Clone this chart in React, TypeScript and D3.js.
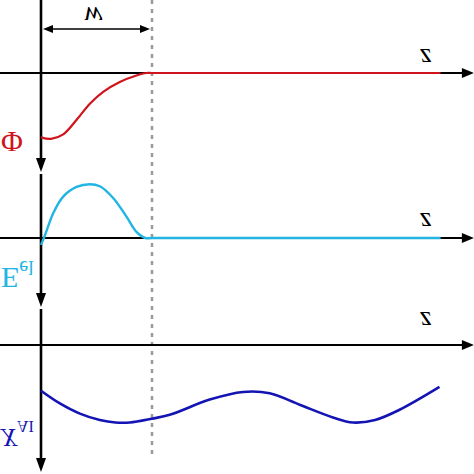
import React from 'react';
import * as d3 from 'd3';

// z positions (in units of w) and profile values for each panel
const Z_MAX = 3.9;
const phiZ = [0, 0.09, 0.2, 0.33, 0.44, 0.56, 0.71, 0.86, 0.95, 1.0, 3.6];
const phiV = [0.65, 0.665, 0.62, 0.46, 0.31, 0.19, 0.09, 0.025, 0, 0, 0];

const elZ = [0, 0.036, 0.11, 0.2, 0.32, 0.44, 0.53, 0.65, 0.77, 0.86, 0.94, 1.0, 3.6];
const elV = [0.1, -0.04, -0.36, -0.6, -0.74, -0.78, -0.75, -0.58, -0.31, -0.09, 0, 0, 0];

const chiZ = [0, 0.17, 0.35, 0.53, 0.67, 0.8, 1.0, 1.16, 1.52, 1.82, 2.06, 2.33, 2.63, 2.81, 3.01, 3.23, 3.59];
const chiV = [0.36, 0.46, 0.54, 0.59, 0.61, 0.61, 0.58, 0.55, 0.43, 0.37, 0.38, 0.47, 0.57, 0.61, 0.59, 0.51, 0.33];

const RED = '#d0141c';
const CYAN = '#22b4e2';
const BLUE = '#1414b4';
const FONT = '"Liberation Serif", "DejaVu Serif", serif';

const width = 474;
const height = 474;

const x = d3.scaleLinear().domain([0, 1]).range([41, 152]);
const yPhi = d3.scaleLinear().domain([0, 1]).range([73, 172]);
const yEl = d3.scaleLinear().domain([0, 1]).range([238, 307]);
const yChi = d3.scaleLinear().domain([0, 1]).range([345, 472]);

const makeLine = (y: d3.ScaleLinear<number, number>) =>
  d3.line<[number, number]>()
    .x(d => x(d[0]))
    .y(d => y(d[1]))
    .curve(d3.curveCatmullRom.alpha(0.5));

const zip = (a: number[], b: number[]) => a.map((v, i) => [v, b[i]] as [number, number]);

// arrow head polygon, tip at (tx, ty), pointing in direction (dx, dy)
const head = (tx: number, ty: number, dx: number, dy: number, len = 13, half = 5) => {
  const bx = tx - dx * len, by = ty - dy * len;
  const px = -dy * half, py = dx * half;
  return `M${tx},${ty}L${bx + px},${by + py}L${bx - px},${by - py}Z`;
};

// flipped (mirrored upside down) label
const Flip: React.FC<{ x: number; y: number; children: React.ReactNode }> = ({ x: tx, y: ty, children }) => (
  <g transform={`translate(${tx},${ty}) scale(1,-1)`}>{children}</g>
);

const App: React.FC = () => {
  const x0 = x(0);
  const xEnd = x(Z_MAX);
  const xW = x(1);
  const panels = [
    { y: yPhi, z: phiZ, v: phiV, color: RED, w: 2.2 },
    { y: yEl, z: elZ, v: elV, color: CYAN, w: 2.4 },
    { y: yChi, z: chiZ, v: chiV, color: BLUE, w: 2.6 },
  ];
  const tips = [yPhi(1), yEl(1), yChi(1)];
  const starts = [0, tips[0] + 2, tips[1] + 2];

  return (
    <svg width={width} height={height} style={{ position: 'absolute', left: 0, top: 0, background: '#fff' }}>
      {/* dashed w marker */}
      <line x1={xW} x2={xW} y1={0} y2={455} stroke="#999" strokeWidth={2.5} strokeDasharray="4,5" />

      {/* horizontal z axes */}
      {panels.map((p, i) => (
        <g key={`ax${i}`}>
          <line x1={0} x2={xEnd - 8} y1={p.y(0)} y2={p.y(0)} stroke="#000" strokeWidth={2} />
          <path d={head(xEnd, p.y(0), 1, 0, 12, 5)} fill="#000" />
        </g>
      ))}

      {/* vertical axes */}
      {tips.map((t, i) => (
        <g key={`v${i}`}>
          <line x1={x0} x2={x0} y1={starts[i]} y2={t - 8} stroke="#000" strokeWidth={2.6} />
          <path d={head(x0, t, 0, 1, 14, 5)} fill="#000" />
        </g>
      ))}

      {/* curves */}
      {panels.map((p, i) => (
        <path key={`c${i}`} d={makeLine(p.y)(zip(p.z, p.v)) || ''} fill="none" stroke={p.color} strokeWidth={p.w} />
      ))}

      {/* w double arrow */}
      <line x1={x0 + 6} x2={xW - 6} y1={29} y2={29} stroke="#000" strokeWidth={1.5} />
      <path d={head(x0 + 2, 29, -1, 0, 10, 4)} fill="#000" />
      <path d={head(xW - 2, 29, 1, 0, 10, 4)} fill="#000" />

      <g fontFamily={FONT}>
        <Flip x={93} y={7}>
          <text fontSize={28} fontStyle="italic" textAnchor="middle">w</text>
        </Flip>
        {[49, 213, 312].map((b, i) => (
          <Flip key={`z${i}`} x={426} y={b}>
            <text fontSize={28} fontStyle="italic" textAnchor="middle">z</text>
          </Flip>
        ))}
        <Flip x={12} y={132}>
          <text fontSize={30} fill={RED} textAnchor="middle">Φ</text>
        </Flip>
        <Flip x={1} y={268}>
          <text fontSize={30} fill={CYAN}>
            E<tspan fontSize={20} dy={7}>el</tspan>
          </text>
        </Flip>
        <Flip x={1} y={429}>
          <text fontSize={26} fill={BLUE}>
            <tspan fontStyle="italic">X</tspan>
            <tspan fontSize={16} dy={8}>AI</tspan>
          </text>
        </Flip>
      </g>
    </svg>
  );
};

export default App;
